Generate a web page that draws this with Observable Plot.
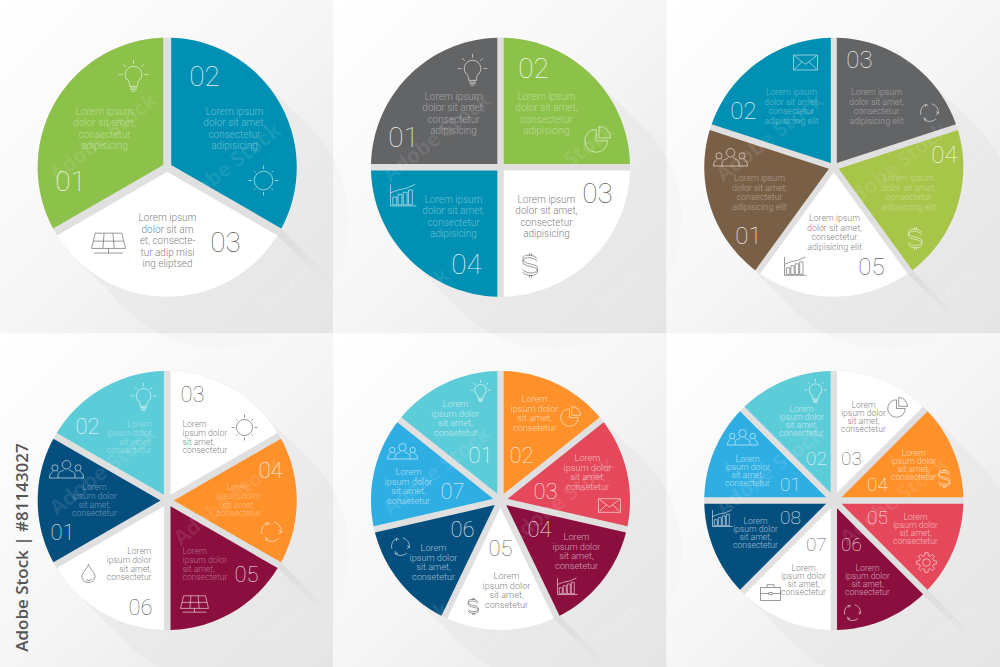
<!DOCTYPE html>
<html><head><meta charset="utf-8">
<script src="https://cdn.jsdelivr.net/npm/d3@7"></script>
<script src="https://cdn.jsdelivr.net/npm/@observablehq/plot@0.6"></script>
<style>html,body{margin:0;padding:0;background:#fff}svg{display:block}</style>
</head><body><div id="chart"></div>
<script>
// ---- chart content ----
const palette = {green:"#8DC24A",lime:"#A7C548",blue:"#0090B3",grey:"#636466",white:"#FFFFFF",brown:"#7A5F47",
  navy:"#054F7F",cyan:"#5DCCD9",orange:"#FF912B",maroon:"#8A0E3E",red:"#E5485A",sky:"#2EAEE3"};
const numbers = ["01","02","03","04","05","06","07","08"];
const text3 = ["Lorem ipsum\ndolor sit amet,\nconsectetur\nadipisicing","Lorem ipsum\ndolor sit amet,\nconsectetur\nadipisicing","Lorem ipsum\ndolor sit am\net, consecte-\ntur adip misi\ning eliptsed"];
const text4 = "Lorem ipsum\ndolor sit amet,\nconsectetur\nadipisicing";
const text5 = "Lorem ipsum\ndolor sit amet,\nconsectetur\nadipisicing elit";
const text6 = "Lorem\nipsum dolor\nsit amet,\nconsectetur";
const text7 = "Lorem\nipsum dolor\nsit amet,\nconsetetur";
const colors3 = ["green","blue","white"];
const colors4 = ["grey","green","white","blue"];
const colors5 = ["brown","blue","grey","lime","white"];
const colors6 = ["navy","cyan","white","orange","maroon","white"];
const colors7 = ["cyan","orange","red","maroon","white","navy","sky"];
const colors8 = ["sky","cyan","white","orange","red","maroon","white","navy"];
const icons3 = ["bulb","sun","solar"];
const icons4 = ["bulb","pie","dollar","chart"];
const icons5 = ["people","mail","cycle","dollar","chart"];
const icons6 = ["people","bulb","sun","cycle","solar","drop"];
const icons7 = ["bulb","pie","mail","chart","dollar","cycle","people"];
const icons8 = ["people","bulb","pie","dollar","gear","cycle","case","chart"];
const watermarks = ["Adobe","Adobe","Adobe Stock","Adobe Stock","Stock","Stock"];
const stockLine = ["Adobe Stock | #81143027"];

// ---- layout (separate from the content) ----
const rotation = {3:-120,4:-90,5:216,6:240,7:-360/7,8:270};
const panelLayout = [
 {n:3,colors:colors3,icons:icons3,body:text3,cx:166.7,cy:166.7,gap:4,num:28,size:10,lh:11.4,op:.42,rIcon:[16,15,17],
  at:[[70,182,104,128,133,76],[204,77,234,128,263,180],[225,243,167,240,108,242]],anchor:["middle","middle","middle"]},
 {n:4,colors:colors4,icons:icons4,body:[text4,text4,text4,text4],cx:500,cy:166.7,gap:3.2,num:28,size:10,lh:11.4,op:.42,rIcon:[16,13,13,13],
  at:[[403,138,453,113,472,70],[533,69,546,113,597,139],[597,194,546,216,530,265],[466,265,453,216,403,195]],anchor:["middle","middle","middle","middle"]},
 {n:5,colors:colors5,icons:icons5,body:[text5,text5,text5,text5,text5],cx:833.3,cy:166.7,gap:3,num:24,size:8.8,lh:9.4,op:.4,rIcon:[17,12,10,12,11],
  at:[[748,236,759,192,730,157],[743,111,791,106,805,62],[859,60,876,106,929,112],[944,155,908,192,915,238],[871,267,834,232,795,266]],anchor:["middle","middle","middle","middle","middle"]},
 {n:6,colors:colors6,icons:icons6,body:Array(6).fill(text6),cx:166.7,cy:500,gap:3.3,num:22,size:8.6,lh:8.7,op:.4,rIcon:[17,14,13,11,14,9],
  at:[[62,532,94,500,66,469],[87,426,151,437,143,397],[192,394,182,437,244,427],[270,470,238,500,271,531],[246,574,182,564,194,603],[140,607,151,564,88,573]],anchor:["middle","end","start","middle","start","end"]},
 {n:7,colors:colors7,icons:icons7,body:Array(7).fill(text7),cx:500,cy:500,gap:3.2,num:22,size:9.2,lh:9.4,op:.62,rIcon:[11,10,11,10,9,10,15],
  at:[[480,455,455,418,480,391],[521,455,534,413,570,416],[545,491,587,472,609,505],[539,529,576,551,567,586],[500,548,506,590,473,606],[462,529,433,562,400,546],[452,491,408,486,402,451]],anchor:Array(7).fill("middle")},
 {n:8,colors:colors8,icons:icons8,body:Array(8).fill(text6),cx:833.3,cy:500,gap:3.2,num:19,size:8.6,lh:8,op:.62,rIcon:[15,12,10,10,10,9,10,10],
  at:[[790,484,747,471,742,437],[816,458,801,421,815,391],[851,458,863,417,897,407],[877,484,913,465,944,478],[877,517,915,529,926,562],[851,544,867,580,852,612],[816,544,803,580,770,592],[790,517,755,533,722,518]],anchor:Array(8).fill("middle")}
];
const R = 129.5;
const panelW = 1000/3, panelH = 667/2;

// ---- geometry from the equal shares, via d3.pie ----
const rad = d => d*Math.PI/180;
const slicePts = [], disc = [], shade = [], streak = [];
panelLayout.forEach((p,pi)=>{
  const start = rad(rotation[p.n]);
  const arcs = d3.pie().value(1).sort(null).startAngle(start).endAngle(start+2*Math.PI)(d3.range(p.n));
  arcs.forEach((a,i)=>{
    const key = pi+"-"+i, d = Math.asin(p.gap/R);
    const a0=a.startAngle+d, a1=a.endAngle-d, steps=Math.ceil((a1-a0)/rad(2));
    const mid=(a.startAngle+a.endAngle)/2, apex=p.gap/Math.sin((a.endAngle-a.startAngle)/2);
    slicePts.push({key,c:p.colors[i],x:p.cx+apex*Math.sin(mid),y:p.cy-apex*Math.cos(mid)});
    for(let s=0;s<=steps;s++){const t=a0+(a1-a0)*s/steps;
      slicePts.push({key,c:p.colors[i],x:p.cx+R*Math.sin(t),y:p.cy-R*Math.cos(t)});}
    // the gap facing the light's far side throws a streak
    const b=((a.endAngle*180/Math.PI)%360+360)%360;
    if(Math.abs(b-135)<25){
      const e=a.endAngle, L=46;
      [[e-d,0],[e+d,0],[e+d,L],[e-d,L]].forEach(([t,o])=>streak.push({key:pi,x:p.cx+R*Math.sin(t)+o,y:p.cy-R*Math.cos(t)+o}));
    }
  });
  for(let t=0;t<360;t+=2) disc.push({key:pi,x:p.cx+R*Math.cos(rad(t)),y:p.cy+R*Math.sin(rad(t))});
  const off=52;
  for(let t=-45;t<=135;t+=3) shade.push({key:pi,x:p.cx+off+R*Math.cos(rad(t)),y:p.cy+off+R*Math.sin(rad(t))});
  for(let t=135;t<=315;t+=3) shade.push({key:pi,x:p.cx+R*Math.cos(rad(t)),y:p.cy+R*Math.sin(rad(t))});
});

const ink = c => c==="white" ? "#757575" : "#ffffff";
const rows = panelLayout.flatMap((p,pi)=>p.colors.map((c,i)=>({pi,i,c,num:numbers[i],body:p.body[i],icon:p.icons[i],
  nx:p.at[i][0],ny:p.at[i][1],tx:p.at[i][2],ty:p.at[i][3],ix:p.at[i][4],iy:p.at[i][5],anchor:p.anchor[i],r:p.rIcon[i]})));

// ---- line icons as custom dot symbols (unit box, scaled by r) ----
const pen = (ctx,size)=>{const s=Math.sqrt(size/Math.PI);return {
  M:(x,y)=>ctx.moveTo(x*s,y*s),L:(x,y)=>ctx.lineTo(x*s,y*s),
  C:(a,b,c,d,e,f)=>ctx.bezierCurveTo(a*s,b*s,c*s,d*s,e*s,f*s),Z:()=>ctx.closePath(),
  O:(x,y,r,a0=0,a1=360,ccw=false)=>{ctx.moveTo((x+r*Math.cos(rad(a0)))*s,(y+r*Math.sin(rad(a0)))*s);ctx.arc(x*s,y*s,r*s,rad(a0),rad(a1),ccw);},
  S:(pts)=>{pts.forEach((q,k)=>k?ctx.lineTo(q[0]*s,q[1]*s):ctx.moveTo(q[0]*s,q[1]*s));},
  B:(x,y,w,h)=>{ctx.rect(x*s,y*s,w*s,h*s);}
};};
const iconDraw = {
 bulb(p){p.O(0,-.12,.52,140,40);p.C(.36,.15,.26,.3,.24,.62);p.L(-.24,.62);p.C(-.26,.3,-.36,.15,-.4,.21);p.S([[-.22,.72],[.22,.72]]);p.S([[-.2,.82],[.2,.82]]);p.S([[-.12,.92],[.12,.92]]);
   for(const t of [-180,-135,-90,-45,0]){p.M(.68*Math.cos(rad(t)),-.12+.68*Math.sin(rad(t)));p.L(.92*Math.cos(rad(t)),-.12+.92*Math.sin(rad(t)));}},
 sun(p){p.O(0,0,.62);for(let t=0;t<360;t+=45){const m=t%90?.9:1;p.M(.76*Math.cos(rad(t)),.76*Math.sin(rad(t)));p.L(m*Math.cos(rad(t)),m*Math.sin(rad(t)));}},
 solar(p){p.S([[-.78,-.55],[.78,-.55],[1,.35],[-1,.35],[-.78,-.55]]);p.S([[-.9,-.08],[.9,-.08]]);p.S([[-.26,-.55],[-.33,.35]]);p.S([[.26,-.55],[.33,.35]]);p.S([[0,.35],[0,.62]]);p.S([[-.85,.62],[.85,.62]]);},
 pie(p){p.O(-.1,.1,.88,-90,0,true);p.L(-.1,.1);p.Z();p.O(.12,-.12,.88,-90,0);p.L(.12,-.12);p.Z();},
 dollar(p){for(const o of [-.1,.1]){p.M(.5,-.42+o);p.C(.35,-.75+o,-.6,-.85+o,-.6,-.38+o);p.C(-.6,.05+o,.55,-.1+o,.55,.33+o);p.C(.55,.8+o,-.4,.75+o,-.6,.4+o);}p.S([[-.08,-.95],[-.08,-.72]]);p.S([[.08,-.95],[.08,-.72]]);p.S([[-.08,.95],[-.08,.72]]);p.S([[.08,.95],[.08,.72]]);},
 chart(p){p.S([[-1,-.85],[-1,.8],[1,.8]]);for(const [x,t] of [[-.82,.12],[-.42,-.08],[-.02,-.25],[.38,-.42]])p.B(x,t,.3,.72-t);p.S([[-1,-.2],[-.35,-.45],[.2,-.55],[.9,-.85]]);},
 mail(p){p.B(-1,-.62,2,1.24);p.S([[-.9,-.55],[0,.15],[.9,-.55]]);p.S([[-.9,.52],[-.28,-.06]]);p.S([[.9,.52],[.28,-.06]]);},
 cycle(p){for(const t of [-90,30,150]){p.O(0,0,.9,t+15,t+95);const e=rad(t+95),x=.9*Math.cos(e),y=.9*Math.sin(e);p.M(x+.28*Math.cos(e+2.5),y+.28*Math.sin(e+2.5));p.L(x,y);p.L(x+.28*Math.cos(e-2.6),y+.28*Math.sin(e-2.6));}},
 people(p){p.O(0,-.28,.25);p.S([[-.5,.5],[-.5,.32]]);p.C(-.5,.1,-.22,.12,-.13,0);p.M(.13,0);p.C(.22,.12,.5,.1,.5,.32);p.L(.5,.5);p.L(-.5,.5);
   for(const o of [-1,1]){p.O(o*.68,-.1,.18);p.M(o*.5,.5);p.L(o*1,.5);p.C(o*1,.2,o*.85,.2,o*.78,.08);p.M(o*.52,.13);p.L(o*.58,.08);}},
 drop(p){p.M(0,-1);p.C(.1,-.6,.72,-.15,.72,.32);p.C(.72,.78,.35,1,0,1);p.C(-.35,1,-.72,.78,-.72,.32);p.C(-.72,-.15,-.1,-.6,0,-1);p.Z();p.O(0,.3,.48,40,120);},
 case(p){p.B(-1,-.5,2,1.3);p.S([[-.35,-.5],[-.35,-.78],[.35,-.78],[.35,-.5]]);p.S([[-1,.1],[-.16,.1]]);p.S([[.16,.1],[1,.1]]);p.B(-.16,0,.32,.22);},
 gear(p){const k=[];for(let i=0;i<8;i++){const t=i*45;for(const [r,o] of [[.72,-14],[1,-9],[1,9],[.72,14]])k.push([r*Math.cos(rad(t+o)),r*Math.sin(rad(t+o))]);}k.push(k[0]);p.S(k);p.O(0,0,.38);}
};
const iconSymbol = name => ({draw(ctx,size){iconDraw[name](pen(ctx,size));}});

// ---- gradient definitions ----
const defs = () => {const g=document.createElementNS("http://www.w3.org/2000/svg","defs");
 g.innerHTML=`<linearGradient id="bg" x1="0" y1="0" x2="1" y2="1"><stop offset="0" stop-color="#ffffff"/><stop offset=".5" stop-color="#f6f6f6"/><stop offset="1" stop-color="#e5e5e5"/></linearGradient>
 <linearGradient id="cast" x1="0.35" y1="0.35" x2="1" y2="1"><stop offset="0" stop-color="#000" stop-opacity=".04"/><stop offset=".5" stop-color="#000" stop-opacity=".02"/><stop offset=".9" stop-color="#000" stop-opacity="0"/></linearGradient>
 <linearGradient id="streak" x1="0" y1="0" x2="1" y2="1"><stop offset="0" stop-color="#000" stop-opacity=".055"/><stop offset="1" stop-color="#000" stop-opacity="0"/></linearGradient>`;
 return g;};

const panelsBg = d3.cross([0,1],[0,1,2]).map(([r,c])=>({x1:c*panelW,x2:(c+1)*panelW,y1:r*panelH,y2:(r+1)*panelH}));

const marks = [
  defs,
  Plot.rect(panelsBg,{x1:"x1",x2:"x2",y1:"y1",y2:"y2",fill:"url(#bg)"}),
  Plot.line(shade,{x:"x",y:"y",z:"key",fill:"url(#cast)",stroke:"none"}),
  Plot.line(streak,{x:"x",y:"y",z:"key",fill:"url(#streak)",stroke:"none"}),
  Plot.line(disc,{x:"x",y:"y",z:"key",fill:"#e0e0e0",stroke:"none"}),
  Plot.line(slicePts,{x:"x",y:"y",z:"key",fill:"c",stroke:"none"}),
];
const wmPanelOffsets=[[55,52],[262,38],[103,137],[227,167],[90,290],[285,290]];
panelLayout.forEach((p,pi)=>{
  const cells=rows.filter(d=>d.pi===pi);
  marks.push(Plot.text(cells,{x:"nx",y:"ny",text:"num",fontSize:p.num,fontWeight:100,fontFamily:"Roboto",textAnchor:"middle",lineAnchor:"middle",
     fill:{value:d=>d.c==="white"?"#4a4a4a":"#ffffff",scale:null},fillOpacity:.9}));
  for(const anchor of new Set(p.anchor)){
    marks.push(Plot.text(cells.filter(d=>d.anchor===anchor),{x:"tx",y:"ty",text:"body",fontSize:p.size,lineHeight:p.lh/p.size,fontWeight:300,fontFamily:"Roboto",textAnchor:anchor,lineAnchor:"middle",
      fill:{value:d=>ink(d.c),scale:null},fillOpacity:d=>d.c==="white"?.95:p.op}));
  }
  for(const cell of cells){
    marks.push(Plot.dot([cell],{x:"ix",y:"iy",r:cell.r,symbol:iconSymbol(cell.icon),fill:"none",
      stroke:cell.c==="white"?"#666666":"#ffffff",strokeWidth:.7,strokeOpacity:cell.c==="white"?.95:.8}));
  }
});
const wmRows = d3.cross([0,1],[0,1,2]).flatMap(([r,c])=>wmPanelOffsets.map(([x,y],i)=>({x:c*panelW+x,y:r*panelH+y,t:watermarks[i]})));
marks.push(Plot.text(wmRows,{x:"x",y:"y",text:"t",rotate:-38,fontSize:21,fontWeight:700,fontFamily:"Open Sans",fill:"#ffffff",fillOpacity:.09}));
marks.push(Plot.text(stockLine,{x:()=>22,y:()=>547,text:d=>d,rotate:-90,fontSize:17,fontWeight:600,fontFamily:"Open Sans",fill:"#555555"}));

const chart = Plot.plot({width:1000,height:667,margin:0,
  x:{domain:[0,1000],range:[0,1000],axis:null},
  y:{domain:[0,667],range:[0,667],axis:null},
  color:{type:"ordinal",domain:Object.keys(palette),range:Object.values(palette)},
  marks});
document.getElementById("chart").append(chart);
</script></body></html>
